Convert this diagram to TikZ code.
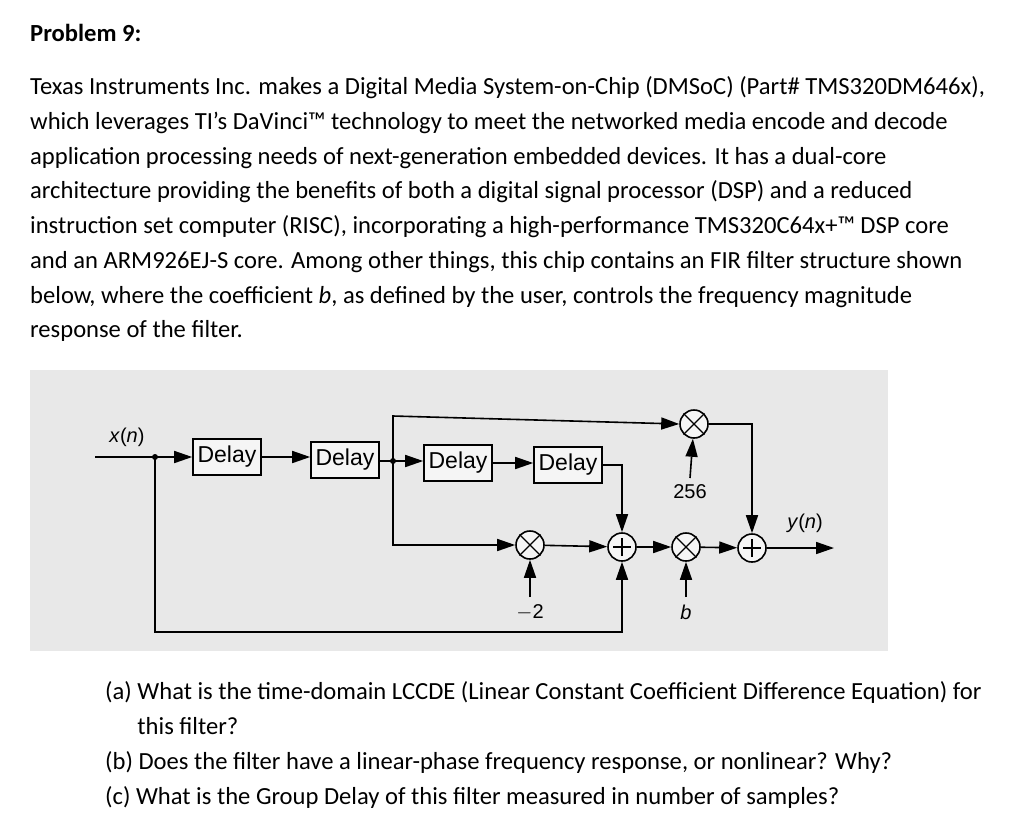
\documentclass[tikz,border=0pt]{standalone}
\usepackage{fontspec}
\setmainfont{Carlito}
\newfontfamily\arialf{Liberation Sans}
\usetikzlibrary{arrows.meta}
\begin{document}
\begin{tikzpicture}[x=1pt,y=-1pt,
  txt/.style={anchor=west,inner sep=0pt,font=\fontsize{24.6}{28}\selectfont},
  dl/.style={draw,line width=1.6pt,fill=gray!8,minimum width=68pt,minimum height=36pt,inner sep=0pt,font=\arialf\fontsize{23}{26}\selectfont},
  op/.style={draw,line width=1.6pt,circle,fill=gray!8,minimum size=28pt,inner sep=0pt},
  lbl/.style={font=\arialf\fontsize{20}{24}\selectfont,inner sep=1pt},
  ar/.style={line width=1.6pt,-{Triangle[length=18pt,width=12pt]}},
  ln/.style={line width=1.6pt}]
\useasboundingbox (0,0) rectangle (1024,836);
\fill[white] (0,0) rectangle (1024,836);
\node[txt,font=\bfseries\fontsize{24.6}{28}\selectfont] (title) at (30,33) {Problem 9:};
\node[txt] (l1) at (30,88) {Texas Instruments Inc. makes a Digital Media System-on-Chip (DMSoC) (Part\# TMS320DM646x),};
\node[txt] (l2) at (30,123) {which leverages TI’s DaVinci™ technology to meet the networked media encode and decode};
\node[txt] (l3) at (30,158) {application processing needs of next-generation embedded devices. It has a dual-core};
\node[txt] (l4) at (30,192) {architecture providing the benefits of both a digital signal processor (DSP) and a reduced};
\node[txt] (l5) at (30,227) {instruction set computer (RISC), incorporating a high-performance TMS320C64x+™ DSP core};
\node[txt] (l6) at (30,262) {and an ARM926EJ-S core. Among other things, this chip contains an FIR filter structure shown};
\node[txt] (l7) at (30,297) {below, where the coefficient \textit{b}, as defined by the user, controls the frequency magnitude};
\node[txt] (l8) at (30,331) {response of the filter.};
\node[txt] (qa) at (105,692) {(a)\ What is the time-domain LCCDE (Linear Constant Coefficient Difference Equation) for};
\node[txt] (qa2) at (105,727) {\phantom{(a)\ }this filter?};
\node[txt] (qb) at (105,762) {(b)\ Does the filter have a linear-phase frequency response, or nonlinear? Why?};
\node[txt] (qc) at (105,797) {(c)\ What is the Group Delay of this filter measured in number of samples?};
% photo background
\fill[gray!18] (30,370) rectangle (888,651);
% nodes
\coordinate (in) at (95,457);
\coordinate (d0) at (155,457);
\node[dl] (D1) at (227,457) {Delay};
\node[dl] (D2) at (345,460) {Delay};
\coordinate (d2) at (393,461);
\node[dl] (D3) at (458,463) {Delay};
\node[dl] (D4) at (568,465) {Delay};
\node[op] (mt) at (694,424) {};
\node[op] (m1) at (530,545) {};
\node[op] (a1) at (622,547) {};
\node[op] (m2) at (686,547) {};
\node[op] (a2) at (752,548) {};
\foreach \m in {mt,m1,m2}{
  \draw[line width=1.2pt] (\m.45) -- (\m.225) (\m.135) -- (\m.315);}
\foreach \a in {a1,a2}{
  \draw[line width=1.2pt] ([yshift=-9pt]\a.center) -- ([yshift=9pt]\a.center) ([xshift=-9pt]\a.center) -- ([xshift=9pt]\a.center);}
\coordinate (out) at (834,548);
\node[lbl] (x) at (127,437) {\textit{x}(\textit{n})};
\node[lbl] (y) at (805,523) {\textit{y}(\textit{n})};
\node[lbl] (c256) at (690,492) {256};
\node[lbl] (cm2) at (530,612) {$-$2};
\node[lbl] (cb) at (686,612) {\textit{b}};
\coordinate (t256) at (690,478);
\coordinate (tm2) at (530,597);
\coordinate (tb) at (686,597);
% connectors
\draw[ln] (in) -- (d0);
\draw[ar] (d0) -- (D1.west|-d0);
\draw[ar] (D1) -- (D2.west|-D1);
\draw[ln] (D2.east|-d2) -- (d2);
\draw[ar] (d2) -- (D3.west|-d2);
\draw[ar] (D3) -- (D4.west|-D3);
\fill (d0) circle (3pt);
\fill (d2) circle (3pt);
\draw[ar] (d2) |- (393,416) -- (mt.west);
\draw[ar] (d2) |- (m1.west);
\draw[ar] (D4.east) -| (a1.north);
\draw[ar] (d0) |- (622,632) -- (a1.south);
\draw[ar] (m1) -- (a1);
\draw[ar] (a1) -- (m2);
\draw[ar] (m2) -- (a2);
\draw[ar] (mt.east) -| (a2.north);
\draw[ar] (a2) -- (out);
\draw[ar] (t256) -- (mt);
\draw[ar] (tm2) -- (m1);
\draw[ar] (tb) -- (m2);
\end{tikzpicture}
\end{document}
